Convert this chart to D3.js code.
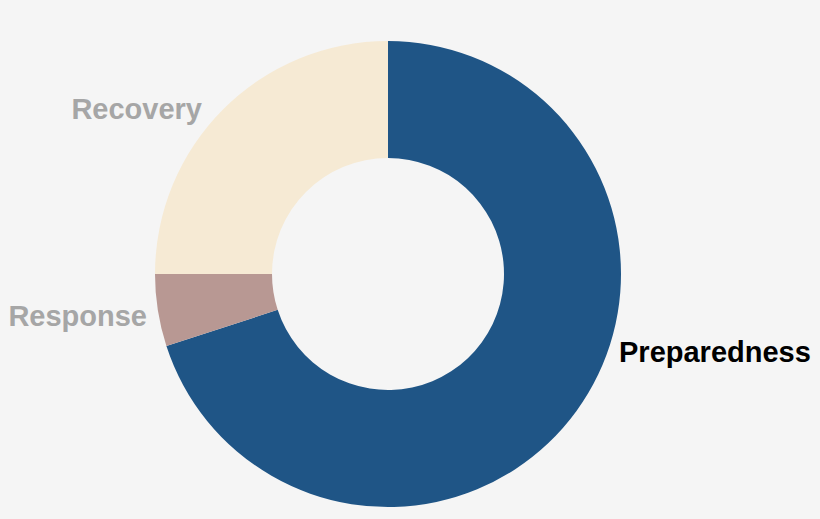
<!DOCTYPE html>
<html>
<head>
<meta charset="utf-8">
<script src="https://cdn.jsdelivr.net/npm/d3@7"></script>
<style>
  html, body { margin: 0; padding: 0; background: #f5f5f5; }
  svg { display: block; }
</style>
</head>
<body>
<div id="chart"></div>
<script>
// data
var categories = ["Preparedness", "Response", "Recovery"];
var values = [70, 5, 25];
var colors = ["#1f5586", "#b89893", "#f6ead4"];
var labelColors = ["#000000", "#a6a6a6", "#a6a6a6"];

var width = 820, height = 519;
var cx = 388, cy = 274,
    outerR = 233, innerR = 116;

// label placement (x, y of baseline, anchor)
var labelPos = [
  {x: 619, y: 362, anchor: "start"},
  {x: 147, y: 326, anchor: "end"},
  {x: 202, y: 119, anchor: "end"}
];

var svg = d3.select("#chart")
  .append("svg")
  .attr("width", width)
  .attr("height", height);

svg.append("rect")
  .attr("width", width)
  .attr("height", height)
  .attr("fill", "#f5f5f5");

var data = categories.map(function(c, i){ return {name: c, value: values[i], i: i}; });

var pie = d3.pie()
  .sort(null)
  .value(function(d){ return d.value; });

var arc = d3.arc()
  .innerRadius(innerR)
  .outerRadius(outerR);

var g = svg.append("g")
  .attr("transform", "translate(" + cx + "," + cy + ")");

g.selectAll("path")
  .data(pie(data))
  .enter()
  .append("path")
  .attr("d", arc)
  .attr("fill", function(d){ return colors[d.data.i]; });

svg.selectAll("text.lbl")
  .data(data)
  .enter()
  .append("text")
  .attr("class", "lbl")
  .attr("x", function(d){ return labelPos[d.i].x; })
  .attr("y", function(d){ return labelPos[d.i].y; })
  .attr("text-anchor", function(d){ return labelPos[d.i].anchor; })
  .attr("font-family", "'Liberation Sans', Arial, sans-serif")
  .attr("font-weight", "bold")
  .attr("font-size", "29px")
  .attr("fill", function(d){ return labelColors[d.i]; })
  .text(function(d){ return d.name; });
</script>
</body>
</html>
